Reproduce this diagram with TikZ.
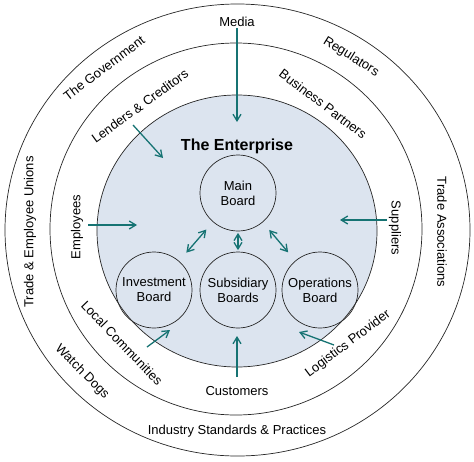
\documentclass[tikz,border=0pt]{standalone}
\usepackage{fontspec}
\setmainfont{Liberation Sans}
\usetikzlibrary{positioning, arrows.meta}

\definecolor{coreblue}{RGB}{220,228,239}
\definecolor{linkteal}{RGB}{22,115,115}

\begin{document}
\begin{tikzpicture}[
    x=1pt, y=-1pt,
    ring/.style={draw=black!85, line width=0.7pt},
    board/.style={draw=black!85, line width=0.7pt, circle, minimum size=76pt,
                  inner sep=0pt, align=center, font=\fontsize{13}{15}\selectfont},
    stake/.style={font=\fontsize{13}{15}\selectfont, inner sep=1pt},
    arr/.style={-{Straight Barb[length=2.3mm, width=2.8mm]}, linkteal, line width=1.3pt},
    darr/.style={{Straight Barb[length=2.3mm, width=2.8mm]}-{Straight Barb[length=2.3mm, width=2.8mm]},
                 linkteal, line width=1.3pt}
]
\useasboundingbox (0,0) rectangle (474,461);

% --- Rings ---
\draw[ring] (237.5,230) ellipse [x radius=232.5, y radius=226];
\draw[ring] (236,229) circle [radius=186];
\draw[ring, fill=coreblue] (237,231) ellipse [x radius=140, y radius=136];

% --- The enterprise and its boards ---
\node[font=\fontsize{16}{18}\selectfont\bfseries] (title) at (237,146) {The Enterprise};
\node[board] (main) at (238,193) {Main\\Board};
\node[board] (inv)  at (154,290) {Investment\\Board};
\node[board] (sub)  at (238,290) {Subsidiary\\Boards};
\node[board] (ops)  at (320,290) {Operations\\Board};

\draw[darr, shorten <=10pt, shorten >=11pt] (main) -- (inv);
\draw[darr, shorten <=1.5pt, shorten >=1.5pt] (main) -- (sub);
\draw[darr, shorten <=10pt, shorten >=11pt] (main) -- (ops);

% --- Inner ring of stakeholders ---
\node[stake, rotate=36]  (lenders)   at (140,106) {Lenders \& Creditors};
\node[stake, rotate=-37] (partners)  at (323,104) {Business Partners};
\node[stake, rotate=90]  (employees) at (77,227)  {Employees};
\node[stake, rotate=-90] (suppliers) at (395,228) {Suppliers};
\node[stake, rotate=-46] (local)     at (122,343) {Local Communities};
\node[stake]             (customers) at (237,391) {Customers};
\node[stake, rotate=37]  (logistics) at (348,344) {Logistics Provider};

% --- Outer ring of stakeholders ---
\node[stake]             (media)    at (237,22)  {Media};
\node[stake, rotate=37]  (gov)      at (104,68)  {The Government};
\node[stake, rotate=-32] (reg)      at (351,57)  {Regulators};
\node[stake, rotate=90]  (unions)   at (30,232)  {Trade \& Employee Unions};
\node[stake, rotate=-90] (tradeass) at (442,232) {Trade Associations};
\node[stake, rotate=-45] (watch)    at (82,372)  {Watch Dogs};
\node[stake]             (industry) at (237,431) {Industry Standards \& Practices};

% --- Influence arrows ---
\coordinate (mediaIn)      at (237,122);
\coordinate (lendersOut)   at (133,125);
\coordinate (lendersIn)    at (163,158);
\coordinate (employeesOut) at (88,225);
\coordinate (employeesIn)  at (137,225);
\coordinate (suppliersOut) at (387,220);
\coordinate (suppliersIn)  at (340,220);
\coordinate (localOut)     at (147,347);
\coordinate (localIn)      at (170,330);
\coordinate (customersOut) at (237,377);
\coordinate (customersIn)  at (237,336);
\coordinate (logisticsOut) at (334,345);
\coordinate (logisticsIn)  at (299,332);

\draw[arr] (media.south) -- (mediaIn);
\draw[arr] (lendersOut) -- (lendersIn);
\draw[arr] (employeesOut) -- (employeesIn);
\draw[arr] (suppliersOut) -- (suppliersIn);
\draw[arr] (localOut) -- (localIn);
\draw[arr] (customersOut) -- (customersIn);
\draw[arr] (logisticsOut) -- (logisticsIn);

\end{tikzpicture}
\end{document}
